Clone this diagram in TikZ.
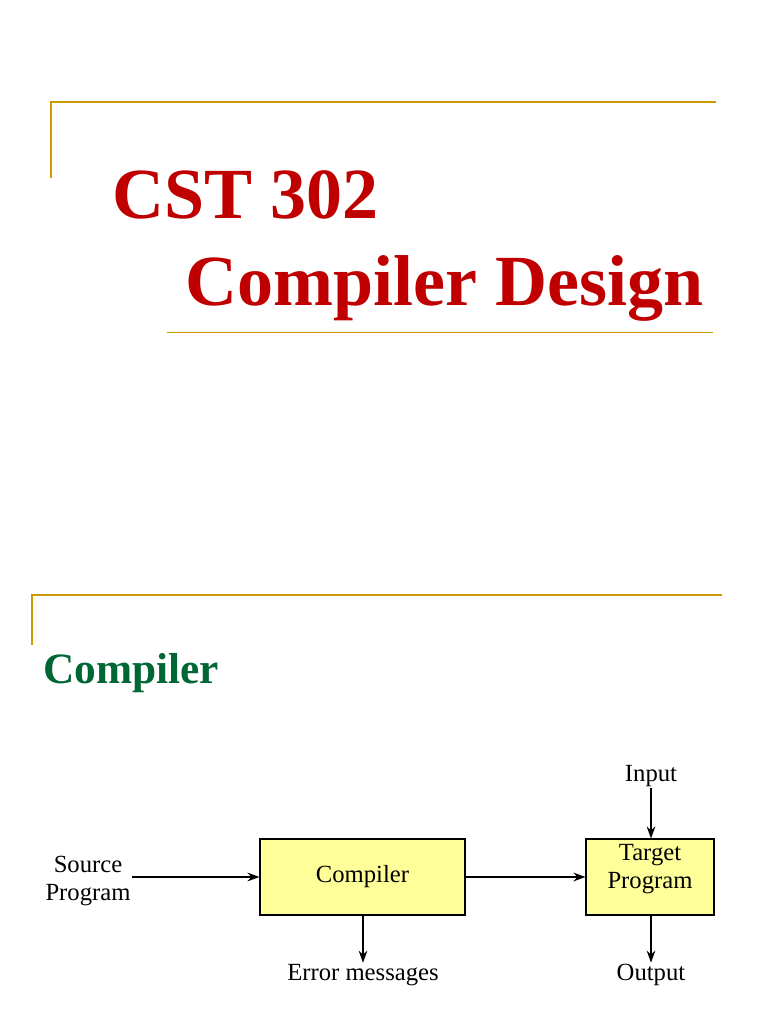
\documentclass[tikz,border=0pt]{standalone}
\usepackage{fontspec}
\setmainfont{Liberation Serif}
\usetikzlibrary{arrows.meta}
\definecolor{gold}{HTML}{CC9900}
\definecolor{titlered}{HTML}{C00000}
\definecolor{titlegreen}{HTML}{006633}
\definecolor{boxfill}{HTML}{FFFF99}
\begin{document}
\begin{tikzpicture}[x=0.75pt,y=-0.75pt,
  rule/.style={gold,line width=0.9pt},
  blk/.style={draw,fill=boxfill,line width=0.8pt,minimum width=205*0.75pt,minimum height=76*0.75pt,font=\fontsize{18.5}{21}\selectfont,align=center,inner sep=0pt},
  lbl/.style={font=\fontsize{18.5}{21}\selectfont,align=center,inner sep=1pt},
  arr/.style={-{Stealth[length=9pt,width=6.5pt]},line width=1.3pt}]
\useasboundingbox (0,0) rectangle (768,1024);
\fill[white] (0,0) rectangle (768,1024);
% slide 1
\draw[rule] (51,178) -- (51,102) -- (716,102);
\draw[rule,line width=0.6pt] (167,332) -- (713,332);
\node[anchor=base west,inner sep=0pt,text=titlered,font=\bfseries\fontsize{54}{60}\selectfont] (t1) at (112,218) {CST 302};
\node[anchor=base west,inner sep=0pt,text=titlered,font=\bfseries\fontsize{54}{60}\selectfont] (t2) at (185,305) {Compiler Design};
% slide 2
\draw[rule] (32,645) -- (32,595) -- (722,595);
\node[anchor=base west,inner sep=0pt,text=titlegreen,font=\bfseries\fontsize{32.5}{36}\selectfont] (t3) at (43,683) {Compiler};
\node[blk] (comp) at (362.5,877) {\raisebox{-2pt}{Compiler}};
\node[blk,minimum width=128*0.75pt] (targ) at (650,877) {\\[-21pt]Target\\Program};
\node[lbl] (src) at (88,881) {Source\\Program};
\node[lbl] (inp) at (651,776) {Input};
\node[lbl] (out) at (651,975) {Output};
\node[lbl] (err) at (363,975) {Error messages};
\draw[arr] (src.east |- comp.west) -- (comp.west);
\draw[arr] (comp.east) -- (targ.west);
\draw[arr] (inp.south) -- (inp.south |- targ.north);
\draw[arr] (targ.south -| out.north) -- (out.north);
\draw[arr] (comp.south -| err.north) -- (err.north);
\end{tikzpicture}
\end{document}
